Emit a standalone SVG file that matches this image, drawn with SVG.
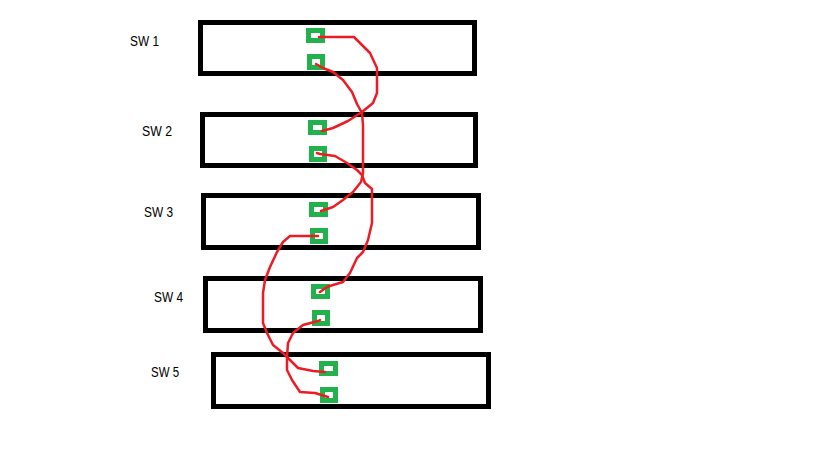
<svg xmlns="http://www.w3.org/2000/svg" width="819" height="460" viewBox="0 0 819 460">
<style>
.sw{fill:none;stroke:#000;stroke-width:5}
.port{fill:#fff;stroke:#22b14c;stroke-width:5}
.lbl{font-family:"Liberation Sans",Arial,sans-serif;font-size:14px;fill:#000}
.cable{fill:none;stroke:#ed1c24;stroke-width:2.5;stroke-linejoin:round;stroke-linecap:round}
</style>
<rect width="819" height="460" fill="#fff"/>
<g id="sw1">
<text class="lbl" x="130" y="46" textLength="29" lengthAdjust="spacingAndGlyphs">SW 1</text>
<rect class="sw" x="200.5" y="22.5" width="274" height="51"/>
<rect class="port" x="308.5" y="30.5" width="14" height="10"/>
<rect class="port" x="309.5" y="56.5" width="13" height="11"/>
</g>
<g id="sw2">
<text class="lbl" x="142" y="136" textLength="30" lengthAdjust="spacingAndGlyphs">SW 2</text>
<rect class="sw" x="202.5" y="114.5" width="273" height="51"/>
<rect class="port" x="310.5" y="122.5" width="14" height="10"/>
<rect class="port" x="311.5" y="148.5" width="13" height="11"/>
</g>
<g id="sw3">
<text class="lbl" x="144" y="217" textLength="29" lengthAdjust="spacingAndGlyphs">SW 3</text>
<rect class="sw" x="203.5" y="195.5" width="275" height="52"/>
<rect class="port" x="311.5" y="204.5" width="14" height="10"/>
<rect class="port" x="312.5" y="230.5" width="13" height="11"/>
</g>
<g id="sw4">
<text class="lbl" x="154" y="302" textLength="29" lengthAdjust="spacingAndGlyphs">SW 4</text>
<rect class="sw" x="205.5" y="278.5" width="275" height="52"/>
<rect class="port" x="313.5" y="286.5" width="14" height="10"/>
<rect class="port" x="314.5" y="312.5" width="13" height="11"/>
</g>
<g id="sw5">
<text class="lbl" x="151" y="377" textLength="28" lengthAdjust="spacingAndGlyphs">SW 5</text>
<rect class="sw" x="213.5" y="354.5" width="275" height="52"/>
<rect class="port" x="321.5" y="363.5" width="14" height="10"/>
<rect class="port" x="322.5" y="389.5" width="13" height="11"/>
</g>
<g id="connectors">
<path class="cable" d="M319,37 L354,37 L360,43 L370,53 L377,68 L377,93 L373,103 L362,112 L348,121 L333,128 L322,131"/>
<path class="cable" d="M316,64 L323,68 L333,72 L343,80 L352,92 L357,104 L362,113 L363,125 L363,173 L361,182 L353,192 L343,200 L333,207 L321,211"/>
<path class="cable" d="M317,153 L320,154 L335,156 L347,163 L357,170 L362,175 L365,183 L372,189 L372,223 L368,240 L363,252 L357,258 L350,273 L343,282 L333,285 L327,287 L320,292"/>
<path class="cable" d="M318,236 L290,236 L283,242 L277,252 L270,267 L265,280 L263,293 L263,323 L267,333 L273,345 L283,353 L290,360 L298,368 L313,371 L325,372"/>
<path class="cable" d="M320,320 L318,321 L303,325 L293,333 L288,343 L287,357 L287,370 L292,380 L300,392 L315,393 L328,397"/>
</g>
</svg>
